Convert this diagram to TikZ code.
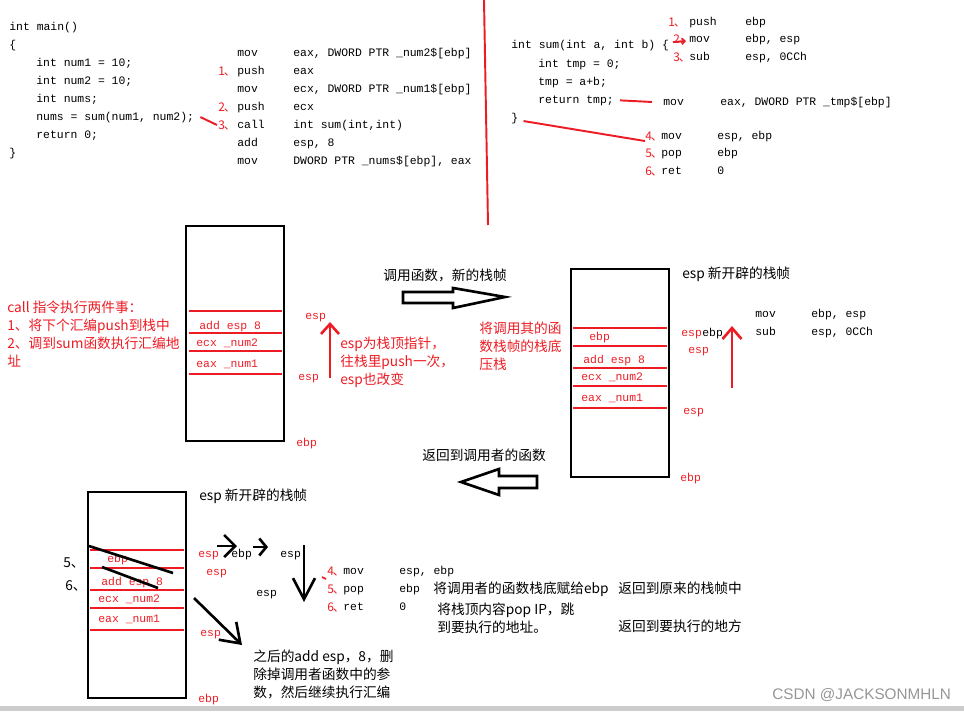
\documentclass[tikz,border=0pt]{standalone}
\usepackage{fontspec}
\newfontfamily\cjkfont{Noto Sans CJK SC}
\newfontfamily\codefont{Liberation Mono}
\newfontfamily\markfont{Liberation Sans}
\usetikzlibrary{arrows.meta}
\definecolor{redink}{RGB}{237,28,36}
\definecolor{stripgray}{RGB}{204,204,204}
\definecolor{markgray}{RGB}{150,150,150}
\newcommand{\stepmark}[1]{#1\kern-0.1em、\kern-0.55em}
\tikzset{
    code/.style={
        anchor=base west,
        inner sep=0pt,
        yshift=-0.8mm,
        font=\codefont\fontsize{6.5}{8}\selectfont
    },
    redcode/.style={code, text=redink},
    note/.style={
        anchor=base west,
        inner sep=0pt,
        yshift=-1mm,
        font=\cjkfont\fontsize{7.8}{10.2}\selectfont
    },
    rednote/.style={note, text=redink},
    stepnum/.style={note, text=redink, font=\cjkfont\fontsize{6.8}{8}\selectfont},
    block/.style={
        anchor=north west,
        inner sep=0pt,
        align=left,
        yshift=1.4mm,
        font=\cjkfont\fontsize{7.8}{10.2}\selectfont
    },
    redblock/.style={block, text=redink},
    stackbox/.style={draw=black, line width=1.5pt},
    slot/.style={draw=redink, line width=1.1pt},
    redstroke/.style={draw=redink, line width=1.1pt},
    pen/.style={draw=black, line width=1.5pt},
    bigarrow/.style={draw=black, line width=1.5pt, fill=white}
}

\begin{document}
\begin{tikzpicture}[x=0.2mm, y=-0.2mm]
    \useasboundingbox (0,0) rectangle (964,711);

    % main() source
    \node[code] (mainhead) at (9,26) {int main()};
    \node[code] (mainopen) at (9,44) {\{};
    \node[code] (num1) at (36,62) {int num1 = 10;};
    \node[code] (num2) at (36,80) {int num2 = 10;};
    \node[code] (nums) at (36,98) {int nums;};
    \node[code] (sumline) at (36,116) {nums = sum(num1, num2);};
    \node[code] (ret0) at (36,134) {return 0;};
    \node[code] (mainclose) at (9,152) {\}};

    % main() assembly
    \node[code] (m1) at (237,52) {mov};
    \node[code] (m2) at (237,70) {push};
    \node[code] (m3) at (237,88) {mov};
    \node[code] (m4) at (237,106) {push};
    \node[code] (m5) at (237,124) {call};
    \node[code] (m6) at (237,142) {add};
    \node[code] (m7) at (237,160) {mov};
    \node[code] (o1) at (293,52) {eax, DWORD PTR \_num2\$[ebp]};
    \node[code] (o2) at (293,70) {eax};
    \node[code] (o3) at (293,88) {ecx, DWORD PTR \_num1\$[ebp]};
    \node[code] (o4) at (293,106) {ecx};
    \node[code] (o5) at (293,124) {int sum(int,int)};
    \node[code] (o6) at (293,142) {esp, 8};
    \node[code] (o7) at (293,160) {DWORD PTR \_nums\$[ebp], eax};
    \node[stepnum] (n1) at (218,70) {\stepmark{1}};
    \node[stepnum] (n2) at (218,106) {\stepmark{2}};
    \node[stepnum] (n3) at (218,124) {\stepmark{3}};
    \draw[redstroke] ([xshift=1.2mm]sumline.east) -- ([xshift=-0.2mm]n3.west);

    % divider
    \draw[redstroke] (484,0) -- (488,225);

    % sum() source
    \node[code] (sumhead) at (511,45) {int sum(int a, int b) \{};
    \node[code] (tmp0) at (538,63) {int tmp = 0;};
    \node[code] (tmpab) at (538,81) {tmp = a+b;};
    \node[code] (rettmp) at (538,99) {return tmp;};
    \node[code] (sumclose) at (511,117) {\}};

    % sum() prologue
    \node[stepnum] (p1) at (668,21) {\stepmark{1}};
    \node[stepnum] (p2) at (673,38) {\stepmark{2}};
    \node[stepnum] (p3) at (673,56) {\stepmark{3}};
    \node[code] (pm1) at (689,21) {push};
    \node[code] (pm2) at (689,38) {mov};
    \node[code] (pm3) at (689,56) {sub};
    \node[code] (po1) at (745,21) {ebp};
    \node[code] (po2) at (745,38) {ebp, esp};
    \node[code] (po3) at (745,56) {esp, 0CCh};
    \draw[redink, line width=1pt, -{Straight Barb[length=0.6mm, width=1.2mm]}]
        (673,42) -- (686,41);

    % sum() return
    \node[code] (movtmp) at (663,101) {mov};
    \node[code] (opstmp) at (720,101) {eax, DWORD PTR \_tmp\$[ebp]};
    \draw[redstroke] ([xshift=1.2mm]rettmp.east) -- ([xshift=-2.2mm]movtmp.west);

    % sum() epilogue
    \node[stepnum] (e4) at (645,135) {\stepmark{4}};
    \node[stepnum] (e5) at (645,152) {\stepmark{5}};
    \node[stepnum] (e6) at (645,170) {\stepmark{6}};
    \node[code] (em4) at (661,135) {mov};
    \node[code] (em5) at (661,152) {pop};
    \node[code] (em6) at (661,170) {ret};
    \node[code] (eo4) at (717,135) {esp, ebp};
    \node[code] (eo5) at (717,152) {ebp};
    \node[code] (eo6) at (717,170) {0};
    \draw[redstroke] ([xshift=1mm,yshift=-0.6mm]sumclose.east) -- (e4.south west);

    % call explanation
    \node[redblock] (callnote) at (7,308)
        {call 指令执行两件事：\\1、将下个汇编push到栈中\\2、调到sum函数执行汇编地\\址};

    % stack before call
    \draw[stackbox] (186,226) rectangle (284,441);
    \foreach \y in {311,333,351,374}
        \draw[slot] (189,\y) -- (282,\y);
    \node[redcode] (a1) at (199,325) {add esp 8};
    \node[redcode] (a2) at (196,342) {ecx \_num2};
    \node[redcode] (a3) at (196,363) {eax \_num1};
    \node[redcode] (espA) at (305,315) {esp};
    \node[redcode] (espB) at (298,376) {esp};
    \node[redcode] (ebpA) at (296,442) {ebp};
    \draw[redstroke, line width=1.5pt, -{Straight Barb[length=2mm, width=3.6mm]}]
        (330,378) -- (330,322);
    \node[redblock] (espnote) at (340,344)
        {esp为栈顶指针，\\往栈里push一次，\\esp也改变};

    % into the callee
    \node[note] (callee) at (383,275) {调用函数，新的栈帧};
    \draw[bigarrow] (403,292) -- (453,292) -- (453,288) -- (505,297)
        -- (453,308) -- (453,303) -- (403,303) -- cycle;

    % stack of the callee
    \draw[stackbox] (571,269) rectangle (669,477);
    \foreach \y in {328,346,368,386,408}
        \draw[slot] (573,\y) -- (667,\y);
    \node[redcode] (b0) at (589,336) {ebp};
    \node[redcode] (b1) at (583,359) {add esp 8};
    \node[redcode] (b2) at (581,376) {ecx \_num2};
    \node[redcode] (b3) at (581,397) {eax \_num1};
    \node[redblock] (pushnote) at (479,329) {将调用其的函\\数栈帧的栈底\\压栈};
    \node[note] (newframe) at (682,273) {esp 新开辟的栈帧};
    \node[redcode] (espC) at (681,332) {esp};
    \node[code] (ebpB) at (702,332) {ebp};
    \node[redcode] (espD) at (688,349) {esp};
    \node[redcode] (espE) at (683,410) {esp};
    \node[redcode] (ebpC) at (680,477) {ebp};
    \draw[redstroke, line width=1.5pt, -{Straight Barb[length=2.2mm, width=3.8mm]}]
        (732,388) -- (732,326);
    \node[code] (qm1) at (755,313) {mov};
    \node[code] (qo1) at (811,313) {ebp, esp};
    \node[code] (qm2) at (755,331) {sub};
    \node[code] (qo2) at (811,331) {esp, 0CCh};

    % back to the caller
    \node[note] (back) at (422,455) {返回到调用者的函数};
    \draw[bigarrow] (537,476) -- (499,476) -- (499,469) -- (461,482)
        -- (499,495) -- (499,488) -- (537,488) -- cycle;

    % stack after return
    \draw[stackbox] (88,492) rectangle (186,698);
    \foreach \y in {550,568,590,608,630}
        \draw[slot] (90,\y) -- (184,\y);
    \node[redcode] (c0) at (107,558) {ebp};
    \node[redcode] (c1) at (101,581) {add esp 8};
    \node[redcode] (c2) at (98,598) {ecx \_num2};
    \node[redcode] (c3) at (98,618) {eax \_num1};
    \draw[pen] (89,546) -- (173,573);
    \draw[pen] (102,567) -- (158,588);
    \node[note] (s5) at (63,562) {5、};
    \node[note] (s6) at (65,585) {6、};
    \node[note] (oldframe) at (199,495) {esp 新开辟的栈帧};
    \node[redcode] (espF) at (198,553) {esp};
    \node[code] (ebpD) at (231,553) {ebp};
    \node[code] (espG) at (280,553) {esp};
    \node[redcode] (espH) at (206,571) {esp};
    \node[code] (espI) at (256,592) {esp};
    \node[redcode] (espJ) at (200,632) {esp};
    \node[redcode] (ebpE) at (198,698) {ebp};
    \draw[pen, -{Straight Barb[length=2.2mm, width=4.4mm]}] (217,546) -- (237,546);
    \draw[pen, -{Straight Barb[length=1.4mm, width=3.4mm]}] (253,547) -- (268,547);
    \draw[pen, -{Straight Barb[length=4.2mm, width=4.4mm]}] (304,545) -- (304,602);
    \draw[pen, -{Straight Barb[length=3.6mm, width=5mm]}] (194,598) -- (242,645);
    \node[block] (addnote) at (253,657)
        {之后的add esp，8，删\\除掉调用者函数中的参\\数，然后继续执行汇编};

    % epilogue again
    \node[stepnum] (r4) at (327,570) {\stepmark{4}};
    \node[stepnum] (r5) at (327,588) {\stepmark{5}};
    \node[stepnum] (r6) at (327,606) {\stepmark{6}};
    \draw[redink, line width=1pt] (322,577) -- (326,579);
    \node[code] (rm4) at (343,570) {mov};
    \node[code] (rm5) at (343,588) {pop};
    \node[code] (rm6) at (343,606) {ret};
    \node[code] (ro4) at (399,570) {esp, ebp};
    \node[code] (ro5) at (399,588) {ebp};
    \node[code] (ro6) at (399,606) {0};
    \node[note] (popnote) at (433,588) {将调用者的函数栈底赋给ebp};
    \node[note] (popres) at (618,588) {返回到原来的栈帧中};
    \node[block] (retnote) at (437,610) {将栈顶内容pop IP，跳\\到要执行的地址。};
    \node[note] (retres) at (618,626) {返回到要执行的地方};

    % footer
    \fill[stripgray] (0,706) rectangle (964,711);
    \node[anchor=base west, inner sep=0pt, yshift=-1.1mm, text=markgray,
        font=\markfont\fontsize{8.7}{10}\selectfont] (mark) at (772,694)
        {CSDN @JACKSONMHLN};
\end{tikzpicture}
\end{document}
